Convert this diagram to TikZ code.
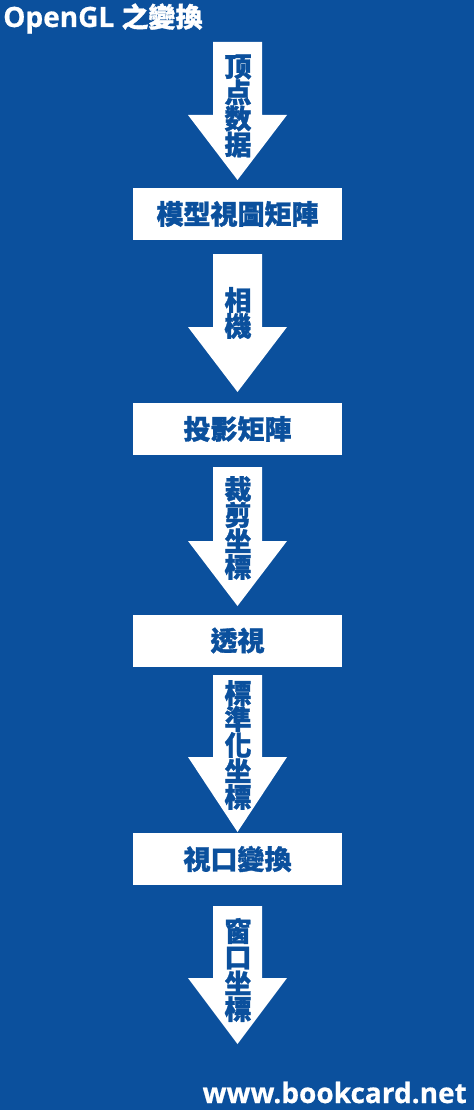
\documentclass[tikz,border=0pt]{standalone}
\usepackage{fontspec}
\setmainfont{Open Sans}[BoldFeatures={FakeBold=0.6}]
\newfontfamily\cjk{Noto Sans CJK TC}[BoldFeatures={FakeBold=1.2}]
\usepackage{tikz}
\usetikzlibrary{positioning}
\definecolor{glblue}{RGB}{11,80,157}

\begin{document}
\begin{tikzpicture}[x=1pt, y=-1pt,
    stage/.style={rectangle, fill=white, text=glblue, inner sep=0pt,
      minimum width=209pt, minimum height=52pt,
      font=\cjk\bfseries\fontsize{27}{27}\selectfont},
    flowtext/.style={text=glblue, inner sep=0pt, align=center,
      font=\cjk\bfseries\fontsize{27}{26}\selectfont}
  ]
%%% background %%%
      \fill[glblue] (0,0) rectangle (474,1110);
      \useasboundingbox (0,0) rectangle (474,1110);

      \node[anchor=base west, inner sep=0pt, text=white,
        font=\bfseries\fontsize{28}{28}\selectfont] (title) at (3,27)
        { OpenGL {\cjk\fontsize{27}{27}\selectfont 之變換} };

      %% block arrows
      \foreach \top/\neck/\tip/\name in {42/115/180/a1, 254/327/392/a2,
          467/541/606/a3, 675/757/832/a4, 906/978/1044/a5}
      {
        \fill[white] (213,\top) -- (262,\top) -- (262,\neck) -- (287,\neck)
          -- (237.5,\tip) -- (188,\neck) -- (213,\neck) -- cycle;
        \coordinate (\name) at (237.5,\tip);
      }

      %% stages
      \node[stage] (model) at (237.5,214) { 模型視圖矩陣 };
      \node[stage] (proj) at (237.5,429) { 投影矩陣 };
      \node[stage] (persp) at (237.5,640.5) { 透視 };
      \node[stage] (viewport) at (237.5,859) { 視口變換 };

      %% arrow labels
      \node[flowtext] (vertex) at (238,106) { 顶\\点\\数\\据 };
      \node[flowtext] (camera) at (238,313) { 相\\機 };
      \node[flowtext] (clip) at (238,528) { 裁\\剪\\坐\\標 };
      \node[flowtext] (ndc) at (238,745) { 標\\準\\化\\坐\\標 };
      \node[flowtext] (window) at (238,970) { 窗\\口\\坐\\標 };

      \node[anchor=base east, inner sep=0pt, text=white,
        font=\bfseries\fontsize{28}{28}\selectfont] (site) at (467,1103)
        { www.bookcard.net };

\end{tikzpicture}
\end{document}
